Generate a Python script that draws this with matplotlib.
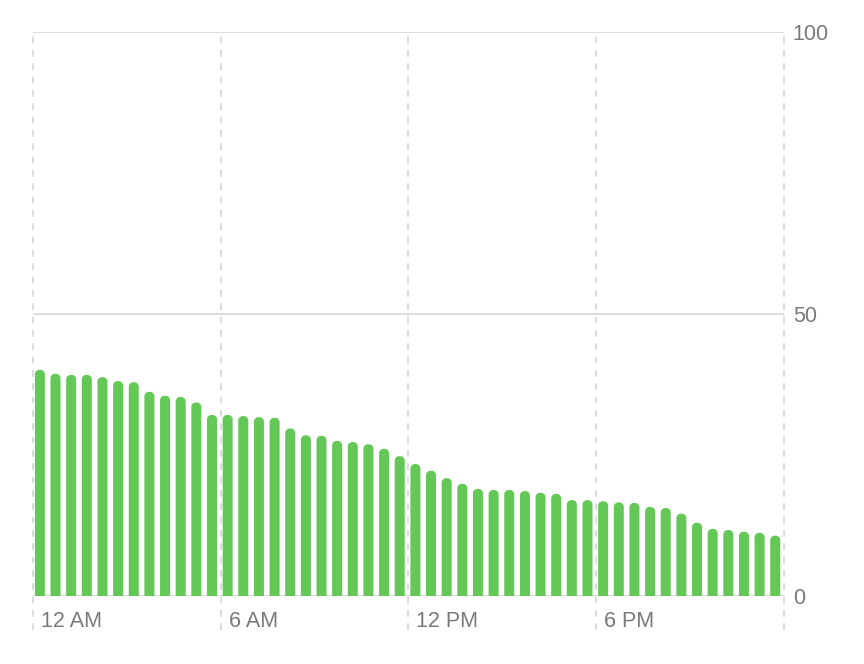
import numpy as np
import matplotlib.pyplot as plt
from matplotlib.patches import PathPatch
from matplotlib.path import Path
from matplotlib.transforms import blended_transform_factory

# half-hour battery usage values, starting at midnight
levels = [
    40.1, 39.4, 39.2, 39.2, 38.8, 38.1, 37.9, 36.2, 35.5, 35.3, 34.3, 32.1,
    32.1, 31.9, 31.7, 31.6, 29.7, 28.5, 28.4, 27.5, 27.3, 26.9, 26.1, 24.8,
    23.4, 22.2, 20.9, 19.9, 19.0, 18.8, 18.8, 18.6, 18.3, 18.1, 17.0, 17.0,
    16.8, 16.6, 16.5, 15.8, 15.6, 14.6, 13.0, 11.9, 11.7, 11.4, 11.2, 10.7,
]
hour_ticks = [0, 6, 12, 18]
hour_labels = ["12 AM", "6 AM", "12 PM", "6 PM"]
y_ticks = [0, 50, 100]

GREEN = "#64c857"
GRID = "#d6d6d6"
TEXT = "#7a7a7a"

plt.rcParams["font.family"] = ["Liberation Sans", "DejaVu Sans"]

fig = plt.figure(figsize=(8.64, 6.64), dpi=100)
ax = fig.add_axes([33 / 864, 1 - 596 / 664, 751 / 864, 564 / 664])
ax.set_xlim(0, 24)
ax.set_ylim(0, 100)

# corner radius, in data units for each axis (about 4 px)
px_x = 24 / 751
px_y = 100 / 564
rx, ry = 4.5 * px_x, 4.5 * px_y
bar_w = 0.32
theta = np.linspace(0, np.pi / 2, 10)


def rounded_bar(x0, h):
    w = bar_w
    ryy = min(ry, h)
    left = [(x0, 0), (x0, h - ryy)]
    tl = list(zip(x0 + rx - rx * np.cos(theta), h - ryy + ryy * np.sin(theta)))
    tr = list(zip(x0 + w - rx + rx * np.sin(theta), h - ryy + ryy * np.cos(theta)))
    pts = left + tl + tr + [(x0 + w, 0), (x0, 0)]
    return Path(pts, closed=True)


for i, v in enumerate(levels):
    ax.add_patch(PathPatch(rounded_bar(i * 0.5 + 0.06, v), facecolor=GREEN,
                           edgecolor="none", zorder=3))

for y in y_ticks:
    ax.axhline(y, color=GRID, linewidth=1.2, zorder=1)

trans = blended_transform_factory(ax.transData, ax.transAxes)
for h in hour_ticks + [24]:
    ax.plot([h, h], [-0.06, 1.0], transform=trans, color=GRID, linewidth=1.2,
            linestyle=(0, (4, 4)), clip_on=False, zorder=1)

for h, lab in zip(hour_ticks, hour_labels):
    ax.text(h + 0.25, -0.041, lab, transform=trans, ha="left",
            va="center_baseline", fontsize=15.5, color=TEXT)

for y in y_ticks:
    ax.text(24.28, y, str(y), ha="left", va="center_baseline", fontsize=15.5,
            color=TEXT, clip_on=False)

ax.set_xticks([])
ax.set_yticks([])
for s in ax.spines.values():
    s.set_visible(False)

fig.savefig("out.png", dpi=100)
